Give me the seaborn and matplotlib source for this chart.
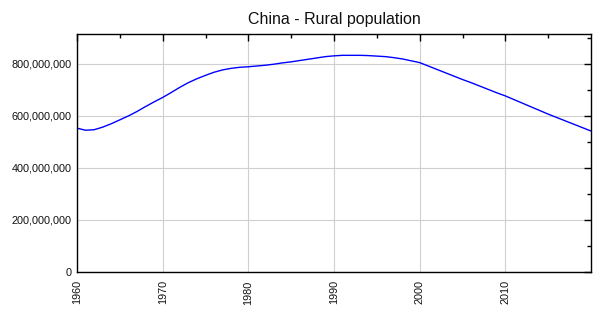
import matplotlib
matplotlib.use("Agg")
import matplotlib.pyplot as plt
import matplotlib.ticker as mticker
import seaborn as sns
import pandas as pd

years = list(range(1960, 2021))
rural_millions = [
    553, 545, 547, 557, 570, 585, 600, 617, 636, 654,
    671, 690, 710, 728, 743, 756, 768, 777, 783, 787,
    789, 792, 795, 799, 804, 808, 813, 818, 823, 828,
    831, 833, 833, 833, 832, 830, 828, 824, 819, 812,
    805, 792, 779, 766, 753, 740, 728, 715, 702, 689,
    677, 663, 649, 635, 621, 607, 594, 581, 568, 555,
    542,
]
x_ticks = [1960, 1970, 1980, 1990, 2000, 2010]
title = "China - Rural population"

df = pd.DataFrame({"year": years, "rural": [v * 1e6 for v in rural_millions]})

sns.set_style("white")
plt.rcParams["font.family"] = ["Liberation Sans", "DejaVu Sans"]

fig = plt.figure(figsize=(6, 3.15), dpi=100)
ax = fig.add_axes([77 / 600, 1 - 272 / 315, (591 - 77) / 600, (272 - 34) / 315])

sns.lineplot(data=df, x="year", y="rural", ax=ax, color="#0000ff", linewidth=1.0)

ax.set_xlim(1960, 2020)
ax.set_ylim(0, 915e6)
ax.set_xlabel("")
ax.set_ylabel("")
ax.set_title(title, fontsize=11.5, color="#111111", pad=7)

ax.xaxis.set_major_locator(mticker.FixedLocator(x_ticks))
ax.xaxis.set_minor_locator(mticker.FixedLocator([t + 5 for t in x_ticks]))
ax.yaxis.set_major_locator(mticker.MultipleLocator(200e6))
ax.yaxis.set_minor_locator(mticker.MultipleLocator(100e6))
ax.yaxis.set_major_formatter(mticker.FuncFormatter(lambda v, p: f"{int(round(v)):,}"))
ax.xaxis.set_major_formatter(mticker.FuncFormatter(lambda v, p: f"{int(round(v))}"))

ax.grid(True, which="major", color="#d0d0d0", linewidth=0.8)
ax.set_axisbelow(True)

for s in ax.spines.values():
    s.set_visible(True)
    s.set_color("black")
    s.set_linewidth(1.0)

ax.tick_params(axis="both", which="both", direction="in", top=True, right=True,
               color="black", labelsize=7.8, labelcolor="#111111")
ax.tick_params(which="major", length=5, width=1)
ax.tick_params(which="minor", length=3, width=1)
ax.tick_params(axis="x", which="major", pad=6, labelrotation=90)
ax.tick_params(axis="y", which="major", pad=4)

fig.savefig("out.png", dpi=100)
